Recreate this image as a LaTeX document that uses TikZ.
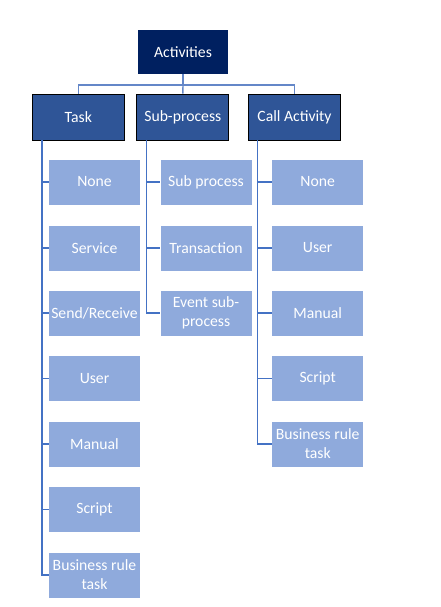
\documentclass[tikz,border=0pt]{standalone}
\usepackage{fontspec}
\setmainfont{Carlito}
\begin{document}
\begin{tikzpicture}[x=1pt,y=-1pt,
  topbox/.style={fill={rgb,255:red,0;green,32;blue,96}, minimum width=90pt, minimum height=44pt, inner sep=0pt, text=white, align=center, font=\fontsize{15.7}{19}\selectfont},
  midbox/.style={fill={rgb,255:red,47;green,85;blue,151}, draw=black, line width=0.9pt, minimum width=92pt, minimum height=46pt, inner sep=0pt, text=white, align=center, font=\fontsize{15.7}{19}\selectfont},
  leaf/.style={fill={rgb,255:red,143;green,170;blue,220}, minimum width=91pt, minimum height=45pt, inner sep=0pt, text=white, align=center, font=\fontsize{15.7}{19}\selectfont},
  conn/.style={draw={rgb,255:red,68;green,114;blue,196}, line width=1.1pt},
  topconn/.style={draw={rgb,255:red,100;green,135;blue,200}, line width=1.4pt}]
\useasboundingbox (0,0) rectangle (440,607);
\node[topbox] (act) at (183,52) {Activities};
\node[midbox] (task) at (78.3,117) {Task};
\node[midbox] (sub) at (182.8,117) {Sub-process};
\node[midbox] (call) at (294.5,117) {Call Activity};
\coordinate (hub) at (183,85);
\draw[topconn] (act.south) -- (hub);
\draw[topconn] (task.north) |- (hub) -| (call.north);
\draw[topconn] (hub) -- (sub.north);
% Task children
\foreach \n/\t/\y in {t1/None/182, t2/Service/248, t3/Send\slash Receive/313, t4/User/378.5, t5/Manual/444, t6/Script/509.5, t7/{Business rule\\task}/575}{
  \node[leaf] (\n) at (94.5,\y) {\t};
}
\foreach \n/\t/\y in {s1/Sub process/182, s2/Transaction/248, s3/{Event sub-\\process}/313}{
  \node[leaf] (\n) at (206,\y) {\t};
}
\foreach \n/\t/\y in {c1/None/182, c2/User/248, c3/Manual/313, c4/Script/378.5, c5/{Business rule\\task}/444}{
  \node[leaf] (\n) at (317.7,\y) {\t};
}
\coordinate (tv) at (42,140);
\coordinate (sv) at (146.7,140);
\coordinate (cv) at (257.3,140);
\foreach \n in {t1,t2,t3,t4,t5,t6,t7}{ \draw[conn] (tv) |- (\n.west); }
\foreach \n in {s1,s2,s3}{ \draw[conn] (sv) |- (\n.west); }
\foreach \n in {c1,c2,c3,c4,c5}{ \draw[conn] (cv) |- (\n.west); }
\end{tikzpicture}
\end{document}
